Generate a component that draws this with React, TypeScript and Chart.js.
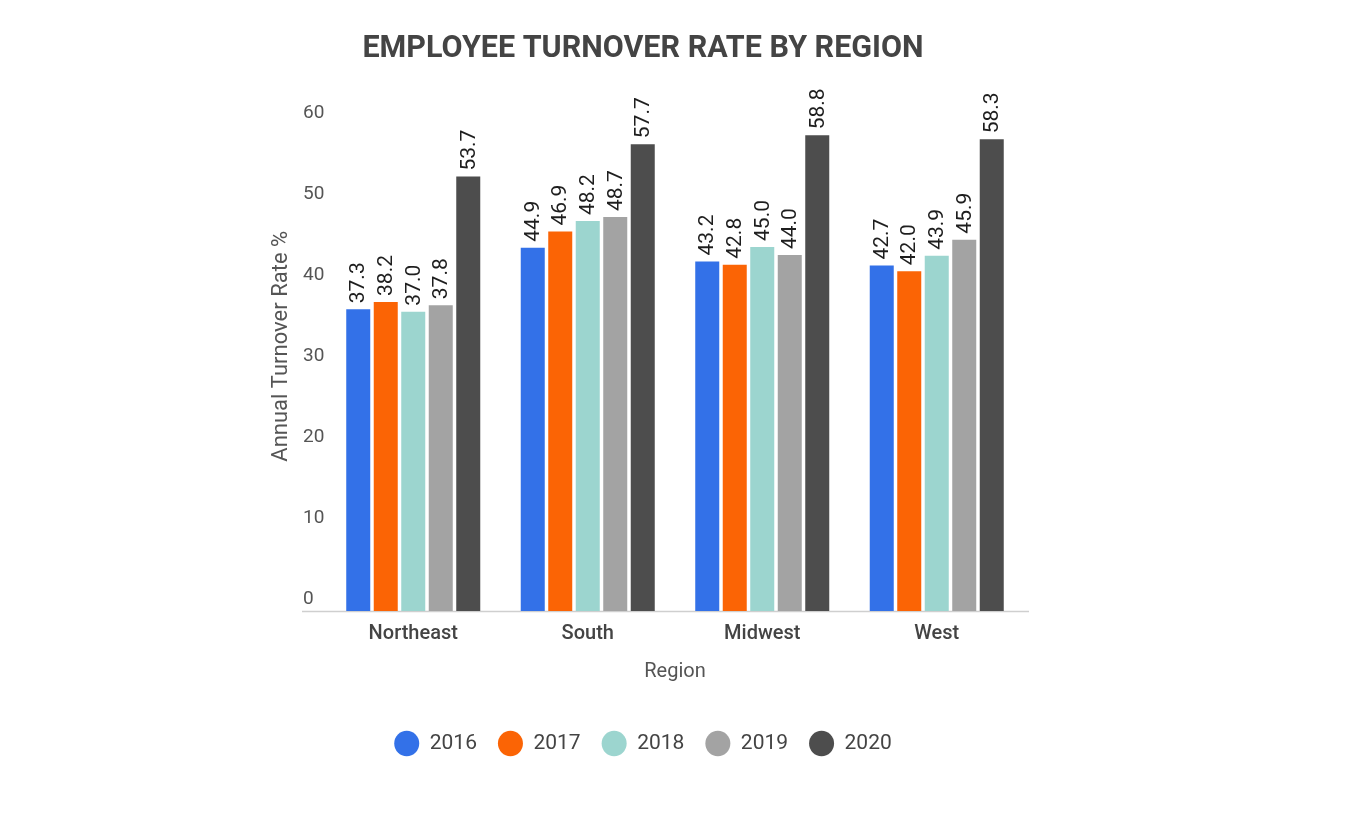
import { useEffect, useRef } from "react";
import { Chart, registerables } from "chart.js";

Chart.register(...registerables);

// Regions on the x axis and one series per year
const regions = ["Northeast", "South", "Midwest", "West"];
const years = ["2016", "2017", "2018", "2019", "2020"];
const rate2016 = [37.3, 44.9, 43.2, 42.7];
const rate2017 = [38.2, 46.9, 42.8, 42.0];
const rate2018 = [37.0, 48.2, 45.0, 43.9];
const rate2019 = [37.8, 48.7, 44.0, 45.9];
const rate2020 = [53.7, 57.7, 58.8, 58.3];
const yearColors = ["#3371e8", "#fb6405", "#9cd5cf", "#a3a3a3", "#4d4d4d"];
const yMin = 0;
const yMax = 60;
const yStep = 10;

const FONT = "Roboto, 'Noto Sans', sans-serif";

// Thin baseline that runs under the tick labels, past the left edge of the plot
const baselinePlugin = {
  id: "baseline",
  beforeDatasetsDraw(chart: any) {
    const { ctx, chartArea, scales } = chart;
    const y = Math.round(scales.y.getPixelForValue(0)) + 0.5;
    ctx.save();
    ctx.strokeStyle = "#cfcfcf";
    ctx.lineWidth = 1.5;
    ctx.beginPath();
    ctx.moveTo(chartArea.left - 24, y);
    ctx.lineTo(chartArea.right + 5, y);
    ctx.stroke();
    ctx.restore();
  },
};

// Vertical value labels sitting on top of each bar
const barValuePlugin = {
  id: "barValues",
  afterDatasetsDraw(chart: any) {
    const { ctx } = chart;
    ctx.save();
    ctx.fillStyle = "#1e1e1e";
    ctx.font = `21px ${FONT}`;
    ctx.textAlign = "left";
    ctx.textBaseline = "middle";
    chart.data.datasets.forEach((ds: any, di: number) => {
      const meta = chart.getDatasetMeta(di);
      meta.data.forEach((bar: any, i: number) => {
        const v = ds.data[i];
        ctx.save();
        ctx.translate(bar.x + 1, bar.y - 6);
        ctx.rotate(-Math.PI / 2);
        ctx.fillText(v.toFixed(1), 0, 0);
        ctx.restore();
      });
    });
    ctx.restore();
  },
};

// Rotated y-axis title placed left of the tick labels
const yTitlePlugin = {
  id: "yTitle",
  afterDraw(chart: any) {
    const { ctx, chartArea } = chart;
    ctx.save();
    ctx.fillStyle = "#555555";
    ctx.font = `22px ${FONT}`;
    ctx.textAlign = "center";
    ctx.textBaseline = "middle";
    ctx.translate(chartArea.left - 45, (chartArea.top + chartArea.bottom) / 2 - 22);
    ctx.rotate(-Math.PI / 2);
    ctx.fillText("Annual Turnover Rate %", 0, 0);
    ctx.restore();
  },
};

export default function App() {
  const canvasRef = useRef<HTMLCanvasElement | null>(null);

  useEffect(() => {
    if (!canvasRef.current) return;
    const series = [rate2016, rate2017, rate2018, rate2019, rate2020];
    const chart = new Chart(canvasRef.current, {
      type: "bar",
      data: {
        labels: regions,
        datasets: years.map((year, i) => ({
          label: year,
          data: series[i],
          backgroundColor: yearColors[i],
          borderWidth: 0,
          barPercentage: 0.873,
          categoryPercentage: 0.788,
        })),
      },
      options: {
        animation: false,
        responsive: true,
        maintainAspectRatio: false,
        layout: {
          padding: { left: 254, right: 314, top: 0, bottom: 63 },
        },
        plugins: {
          tooltip: { enabled: false },
          title: {
            display: true,
            text: "EMPLOYEE TURNOVER RATE BY REGION",
            color: "#444444",
            font: { family: FONT, size: 30.5, weight: "bold" },
            padding: { top: 23, bottom: 58 },
          },
          legend: {
            position: "bottom",
            labels: {
              usePointStyle: true,
              pointStyle: "circle",
              boxHeight: 18,
              pointStyleWidth: 25,
              padding: 21,
              color: "#444444",
              font: { family: FONT, size: 21 },
            },
          },
        },
        scales: {
          x: {
            grid: { display: false, drawTicks: false },
            border: { display: false },
            ticks: {
              color: "#444444",
              font: { family: FONT, size: 20, weight: 500 },
              padding: 11,
            },
            title: {
              display: true,
              text: "Region",
              color: "#555555",
              font: { family: FONT, size: 20 },
              padding: { top: 3, bottom: 28 },
            },
          },
          y: {
            min: yMin,
            max: yMax,
            grid: { display: false, drawTicks: false },
            border: { display: false },
            ticks: {
              stepSize: yStep,
              mirror: true,
              padding: -23,
              labelOffset: -12,
              color: "#555555",
              font: { family: FONT, size: 19 },
            },
            afterFit(scale: any) {
              scale.width = 64;
            },
          },
        },
      },
      plugins: [baselinePlugin, barValuePlugin, yTitlePlugin],
    });
    return () => chart.destroy();
  }, []);

  return (
    <div style={{ position: "relative", width: "100%", height: "819px" }}>
      <canvas ref={canvasRef} />
    </div>
  );
}
